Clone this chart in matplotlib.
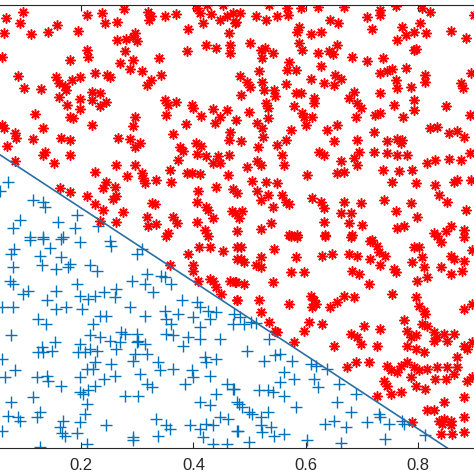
import numpy as np
import matplotlib
matplotlib.use('Agg')
import matplotlib.pyplot as plt

# class 1 samples (red asterisks)
red_pts = np.array([
    (0.067, 0.970), (0.096, 0.985), (0.091, 0.960), (0.063, 0.936), (0.110, 0.934),
    (0.142, 0.938), (0.158, 0.955), (0.194, 0.942), (0.210, 0.977), (0.237, 0.981),
    (0.243, 0.959), (0.264, 0.962), (0.276, 0.991), (0.320, 0.985), (0.325, 0.974),
    (0.321, 0.966), (0.349, 0.975), (0.369, 0.980), (0.406, 0.993), (0.411, 0.981),
    (0.424, 1.000), (0.452, 1.000), (0.417, 0.959), (0.432, 0.980), (0.447, 0.966),
    (0.459, 0.974), (0.471, 0.981), (0.474, 0.959), (0.464, 0.936), (0.390, 0.945),
    (0.059, 0.883), (0.211, 0.899), (0.213, 0.883), (0.180, 0.876), (0.264, 0.920),
    (0.280, 0.923), (0.296, 0.936), (0.293, 0.927), (0.300, 0.919), (0.279, 0.897),
    (0.269, 0.870), (0.292, 0.876), (0.288, 0.855), (0.308, 0.852), (0.339, 0.881),
    (0.388, 0.895), (0.422, 0.910), (0.440, 0.902), (0.465, 0.910), (0.466, 0.891),
    (0.088, 0.840), (0.098, 0.812), (0.128, 0.810), (0.155, 0.837), (0.161, 0.823),
    (0.171, 0.817), (0.174, 0.808), (0.183, 0.831), (0.198, 0.837), (0.225, 0.847),
    (0.247, 0.842), (0.251, 0.838), (0.161, 0.792), (0.175, 0.774), (0.199, 0.788),
    (0.198, 0.765), (0.219, 0.804), (0.219, 0.786), (0.234, 0.801), (0.234, 0.771),
    (0.245, 0.782), (0.317, 0.820), (0.325, 0.831), (0.342, 0.842), (0.349, 0.786),
    (0.355, 0.774), (0.352, 0.752), (0.369, 0.782), (0.398, 0.774), (0.400, 0.767),
    (0.414, 0.750), (0.387, 0.732), (0.364, 0.708), (0.296, 0.748), (0.292, 0.726),
    (0.266, 0.699), (0.287, 0.697), (0.296, 0.680), (0.305, 0.688), (0.181, 0.748),
    (0.185, 0.744), (0.118, 0.753), (0.133, 0.723), (0.059, 0.729), (0.062, 0.722),
    (0.082, 0.710), (0.085, 0.699), (0.115, 0.697), (0.164, 0.699), (0.181, 0.695),
    (0.069, 0.682), (0.082, 0.647), (0.133, 0.662), (0.136, 0.669), (0.151, 0.643),
    (0.181, 0.662), (0.219, 0.729), (0.435, 0.765), (0.459, 0.763), (0.447, 0.748),
    (0.438, 0.733), (0.465, 0.714), (0.464, 0.695), (0.376, 0.680), (0.381, 0.671),
    (0.404, 0.688), (0.414, 0.682), (0.406, 0.664), (0.423, 0.658), (0.435, 0.643),
    (0.447, 0.643), (0.444, 0.658), (0.464, 0.662), (0.373, 0.650), (0.225, 0.624),
    (0.263, 0.639), (0.281, 0.613), (0.296, 0.639), (0.308, 0.620), (0.311, 0.609),
    (0.314, 0.598), (0.334, 0.605), (0.358, 0.628), (0.361, 0.601), (0.388, 0.620),
    (0.397, 0.620), (0.411, 0.619), (0.462, 0.617), (0.245, 0.601), (0.239, 0.586),
    (0.260, 0.590), (0.263, 0.568), (0.257, 0.562), (0.211, 0.569), (0.225, 0.551),
    (0.239, 0.538), (0.275, 0.532), (0.263, 0.509), (0.317, 0.521), (0.326, 0.554),
    (0.331, 0.551), (0.320, 0.501), (0.333, 0.506), (0.355, 0.486), (0.364, 0.522),
    (0.371, 0.507), (0.406, 0.556), (0.409, 0.579), (0.423, 0.545), (0.426, 0.538),
    (0.435, 0.519), (0.406, 0.511), (0.420, 0.492), (0.441, 0.590), (0.471, 0.584),
    (0.468, 0.534), (0.474, 0.530), (0.162, 0.586), (0.180, 0.577), (0.234, 0.512),
    (0.535, 1.000), (0.483, 0.981), (0.475, 0.962), (0.511, 0.975), (0.530, 0.965),
    (0.549, 0.974), (0.567, 0.993), (0.568, 0.977), (0.591, 0.993), (0.621, 0.995),
    (0.668, 0.996), (0.588, 0.951), (0.584, 0.940), (0.609, 0.935), (0.628, 0.940),
    (0.644, 0.966), (0.657, 0.960), (0.709, 0.972), (0.718, 0.945), (0.733, 0.989),
    (0.732, 0.977), (0.761, 0.998), (0.772, 0.951), (0.763, 0.921), (0.778, 0.932),
    (0.793, 0.940), (0.804, 0.959), (0.815, 0.936), (0.807, 0.993), (0.822, 0.985),
    (0.858, 0.942), (0.886, 0.925), (0.899, 0.977), (0.501, 0.915), (0.520, 0.898),
    (0.527, 0.902), (0.523, 0.880), (0.542, 0.892), (0.588, 0.914), (0.594, 0.898),
    (0.621, 0.891), (0.641, 0.895), (0.649, 0.889), (0.655, 0.910), (0.683, 0.883),
    (0.709, 0.874), (0.738, 0.880), (0.793, 0.898), (0.797, 0.900), (0.483, 0.840),
    (0.496, 0.827), (0.501, 0.814), (0.485, 0.797), (0.517, 0.852), (0.523, 0.827),
    (0.526, 0.808), (0.543, 0.808), (0.546, 0.795), (0.570, 0.872), (0.567, 0.853),
    (0.582, 0.853), (0.564, 0.821), (0.582, 0.801), (0.591, 0.802), (0.609, 0.832),
    (0.632, 0.823), (0.628, 0.862), (0.653, 0.842), (0.662, 0.832), (0.650, 0.820),
    (0.733, 0.846), (0.745, 0.852), (0.754, 0.855), (0.760, 0.831), (0.763, 0.812),
    (0.778, 0.857), (0.787, 0.814), (0.813, 0.842), (0.813, 0.827), (0.876, 0.823),
    (0.880, 0.812), (0.894, 0.847), (0.733, 0.801), (0.499, 0.758), (0.529, 0.778),
    (0.532, 0.767), (0.514, 0.733), (0.523, 0.722), (0.532, 0.744), (0.524, 0.703),
    (0.484, 0.692), (0.475, 0.741), (0.579, 0.772), (0.594, 0.756), (0.597, 0.748),
    (0.612, 0.748), (0.600, 0.729), (0.615, 0.789), (0.615, 0.778), (0.677, 0.789),
    (0.686, 0.804), (0.692, 0.778), (0.698, 0.767), (0.689, 0.748), (0.724, 0.752),
    (0.733, 0.756), (0.757, 0.774), (0.774, 0.748), (0.793, 0.786), (0.793, 0.763),
    (0.849, 0.771), (0.893, 0.752), (0.638, 0.718), (0.656, 0.729), (0.650, 0.692),
    (0.624, 0.669), (0.632, 0.662), (0.662, 0.647), (0.656, 0.620), (0.668, 0.624),
    (0.691, 0.695), (0.694, 0.667), (0.692, 0.639), (0.721, 0.714), (0.721, 0.669),
    (0.745, 0.692), (0.763, 0.697), (0.772, 0.695), (0.769, 0.688), (0.763, 0.662),
    (0.781, 0.662), (0.745, 0.665), (0.549, 0.684), (0.564, 0.695), (0.574, 0.718),
    (0.558, 0.662), (0.561, 0.639), (0.515, 0.680), (0.496, 0.635), (0.514, 0.647),
    (0.520, 0.639), (0.602, 0.617), (0.686, 0.654), (0.822, 0.722), (0.834, 0.724),
    (0.855, 0.712), (0.870, 0.716), (0.881, 0.703), (0.816, 0.643), (0.831, 0.650),
    (0.855, 0.652), (0.876, 0.650), (0.893, 0.665), (0.738, 0.628), (0.766, 0.626),
    (0.790, 0.628), (0.796, 0.599), (0.754, 0.601), (0.870, 0.605), (0.864, 0.601),
    (0.894, 0.605), (0.831, 0.594), (0.837, 0.571), (0.852, 0.556), (0.505, 0.603),
    (0.530, 0.601), (0.549, 0.598), (0.514, 0.579), (0.520, 0.560), (0.532, 0.571),
    (0.478, 0.575), (0.558, 0.571), (0.564, 0.556), (0.570, 0.551), (0.541, 0.545),
    (0.612, 0.564), (0.627, 0.556), (0.632, 0.541), (0.668, 0.556), (0.698, 0.553),
    (0.662, 0.530), (0.680, 0.530), (0.677, 0.507), (0.683, 0.481), (0.701, 0.504),
    (0.739, 0.560), (0.760, 0.534), (0.798, 0.522), (0.787, 0.553), (0.763, 0.496),
    (0.775, 0.500), (0.828, 0.485), (0.849, 0.489), (0.858, 0.500), (0.881, 0.492),
    (0.886, 0.538), (0.478, 0.489), (0.487, 0.534), (0.481, 0.519), (0.520, 0.494),
    (0.538, 0.507), (0.570, 0.481), (0.585, 0.481), (0.632, 0.511), (0.635, 0.481),
    (0.718, 0.470),
    (0.352, 0.479), (0.426, 0.479), (0.477, 0.453), (0.391, 0.438), (0.410, 0.453),
    (0.430, 0.454), (0.452, 0.444), (0.478, 0.427), (0.400, 0.412), (0.400, 0.400),
    (0.358, 0.412), (0.409, 0.378), (0.429, 0.382), (0.435, 0.378), (0.440, 0.363),
    (0.450, 0.348), (0.465, 0.378), (0.474, 0.374), (0.478, 0.333),
    (0.484, 0.453), (0.484, 0.427), (0.490, 0.419), (0.511, 0.412), (0.520, 0.430),
    (0.521, 0.408), (0.543, 0.449), (0.573, 0.479), (0.585, 0.476), (0.635, 0.479),
    (0.680, 0.476), (0.582, 0.430), (0.629, 0.434), (0.647, 0.439), (0.677, 0.438),
    (0.692, 0.434), (0.715, 0.468), (0.727, 0.457), (0.730, 0.442), (0.715, 0.427),
    (0.733, 0.412), (0.742, 0.434), (0.757, 0.404), (0.760, 0.397), (0.790, 0.419),
    (0.793, 0.453), (0.801, 0.453), (0.807, 0.430), (0.810, 0.408), (0.834, 0.479),
    (0.840, 0.464), (0.858, 0.434), (0.864, 0.427), (0.881, 0.423), (0.881, 0.476),
    (0.896, 0.446), (0.475, 0.374), (0.490, 0.370), (0.541, 0.374), (0.573, 0.397),
    (0.597, 0.397), (0.683, 0.400), (0.695, 0.393), (0.712, 0.370), (0.798, 0.378),
    (0.816, 0.385), (0.840, 0.408), (0.858, 0.393), (0.878, 0.400), (0.478, 0.333),
    (0.517, 0.333), (0.520, 0.306), (0.570, 0.325), (0.609, 0.344), (0.615, 0.333),
    (0.612, 0.318), (0.618, 0.325), (0.644, 0.318), (0.656, 0.329), (0.668, 0.344),
    (0.686, 0.340), (0.754, 0.348), (0.796, 0.340), (0.801, 0.321), (0.810, 0.310),
    (0.813, 0.303), (0.881, 0.314), (0.896, 0.325), (0.535, 0.284), (0.546, 0.265),
    (0.549, 0.261), (0.579, 0.239), (0.597, 0.265), (0.606, 0.284), (0.629, 0.280),
    (0.680, 0.257), (0.692, 0.250), (0.698, 0.235), (0.704, 0.276), (0.733, 0.269),
    (0.650, 0.231), (0.727, 0.231), (0.775, 0.288), (0.781, 0.265), (0.787, 0.250),
    (0.796, 0.254), (0.807, 0.280), (0.816, 0.276), (0.828, 0.261), (0.834, 0.250),
    (0.846, 0.257), (0.852, 0.242), (0.864, 0.257), (0.828, 0.242), (0.781, 0.231),
    (0.796, 0.224), (0.810, 0.216), (0.881, 0.231), (0.887, 0.224), (0.896, 0.239),
    (0.870, 0.205), (0.674, 0.182), (0.689, 0.194), (0.712, 0.194), (0.745, 0.186),
    (0.751, 0.175), (0.769, 0.186), (0.781, 0.194), (0.793, 0.182), (0.801, 0.175),
    (0.816, 0.179), (0.834, 0.182), (0.852, 0.182), (0.870, 0.182), (0.739, 0.152),
    (0.745, 0.141), (0.751, 0.122), (0.769, 0.126), (0.787, 0.160), (0.796, 0.141),
    (0.813, 0.133), (0.831, 0.156), (0.849, 0.156), (0.864, 0.167), (0.887, 0.152),
    (0.896, 0.160), (0.727, 0.118), (0.763, 0.171), (0.881, 0.115), (0.816, 0.085),
    (0.828, 0.085), (0.846, 0.103), (0.837, 0.062), (0.846, 0.066), (0.858, 0.062),
    (0.881, 0.070), (0.843, 0.055), (0.858, 0.051), (0.840, 0.032), (0.861, 0.032),
    (0.881, 0.036), (0.790, 0.058),
])

# class 2 samples (blue plus signs)
blue_pts = np.array([
    (0.070, 0.601), (0.056, 0.579), (0.115, 0.560), (0.133, 0.556), (0.136, 0.545),
    (0.091, 0.515), (0.079, 0.496), (0.159, 0.511), (0.192, 0.526), (0.189, 0.496),
    (0.231, 0.500), (0.109, 0.476), (0.133, 0.476), (0.168, 0.476),
    (0.109, 0.470), (0.133, 0.472), (0.165, 0.472), (0.198, 0.464), (0.251, 0.468),
    (0.254, 0.455), (0.081, 0.449), (0.076, 0.439), (0.145, 0.452), (0.127, 0.434),
    (0.165, 0.430), (0.180, 0.415), (0.130, 0.412), (0.079, 0.409), (0.155, 0.404),
    (0.177, 0.408), (0.216, 0.412), (0.228, 0.400), (0.308, 0.449), (0.299, 0.438),
    (0.073, 0.378), (0.078, 0.370), (0.097, 0.348), (0.106, 0.355), (0.156, 0.355),
    (0.192, 0.370), (0.198, 0.344), (0.213, 0.336), (0.225, 0.344), (0.240, 0.351),
    (0.263, 0.359), (0.260, 0.340), (0.290, 0.378), (0.314, 0.370), (0.317, 0.393),
    (0.328, 0.351), (0.343, 0.389), (0.349, 0.385), (0.361, 0.370), (0.379, 0.333),
    (0.406, 0.329), (0.412, 0.318), (0.426, 0.310), (0.441, 0.306), (0.059, 0.318),
    (0.078, 0.318), (0.139, 0.333), (0.156, 0.314), (0.174, 0.318), (0.201, 0.314),
    (0.234, 0.299), (0.245, 0.299), (0.287, 0.318), (0.314, 0.299), (0.349, 0.310),
    (0.352, 0.291), (0.373, 0.303), (0.361, 0.280), (0.400, 0.295), (0.412, 0.273),
    (0.429, 0.291), (0.471, 0.280), (0.483, 0.295), (0.124, 0.291), (0.138, 0.280),
    (0.222, 0.280), (0.076, 0.254), (0.154, 0.239), (0.130, 0.227), (0.124, 0.216),
    (0.133, 0.216), (0.148, 0.220), (0.198, 0.235), (0.195, 0.216), (0.207, 0.216),
    (0.216, 0.224), (0.228, 0.220), (0.216, 0.254), (0.234, 0.250), (0.251, 0.242),
    (0.272, 0.261), (0.278, 0.257), (0.269, 0.239), (0.263, 0.224), (0.299, 0.257),
    (0.302, 0.242), (0.299, 0.239), (0.314, 0.235), (0.296, 0.212), (0.317, 0.212),
    (0.293, 0.197), (0.352, 0.257), (0.364, 0.254), (0.382, 0.231), (0.391, 0.250),
    (0.412, 0.246), (0.447, 0.246), (0.420, 0.205), (0.441, 0.201), (0.059, 0.201),
    (0.065, 0.160), (0.082, 0.176), (0.121, 0.160), (0.142, 0.152), (0.165, 0.141),
    (0.139, 0.163), (0.198, 0.160), (0.198, 0.126), (0.213, 0.130), (0.210, 0.100),
    (0.204, 0.122), (0.225, 0.194), (0.222, 0.179), (0.210, 0.179), (0.254, 0.190),
    (0.260, 0.163), (0.240, 0.156), (0.225, 0.141), (0.278, 0.118), (0.302, 0.118),
    (0.305, 0.167), (0.317, 0.145), (0.326, 0.137), (0.337, 0.194), (0.340, 0.175),
    (0.364, 0.179), (0.397, 0.175), (0.400, 0.160), (0.385, 0.145), (0.429, 0.163),
    (0.423, 0.194), (0.441, 0.122), (0.459, 0.145), (0.471, 0.133), (0.477, 0.103),
    (0.412, 0.103), (0.429, 0.096), (0.076, 0.103), (0.115, 0.115), (0.127, 0.081),
    (0.121, 0.070), (0.070, 0.073), (0.088, 0.070), (0.091, 0.062), (0.059, 0.039),
    (0.162, 0.047), (0.168, 0.062), (0.171, 0.028), (0.166, 0.033), (0.198, 0.058),
    (0.192, 0.033), (0.207, 0.077), (0.245, 0.051), (0.210, 0.008), (0.127, 0.002),
    (0.293, 0.024), (0.293, 0.017), (0.334, 0.066), (0.337, 0.028), (0.352, 0.051),
    (0.358, 0.043), (0.394, 0.051), (0.412, 0.043), (0.423, 0.055), (0.417, 0.024),
    (0.435, 0.051), (0.435, 0.009), (0.459, 0.009), (0.447, 0.070), (0.462, 0.066),
    (0.480, 0.039),
    (0.472, 0.303), (0.490, 0.280), (0.502, 0.284), (0.511, 0.281), (0.535, 0.246),
    (0.496, 0.220), (0.526, 0.197), (0.546, 0.209), (0.555, 0.212), (0.576, 0.197),
    (0.609, 0.190), (0.618, 0.186), (0.638, 0.179), (0.561, 0.171), (0.579, 0.156),
    (0.555, 0.148), (0.615, 0.156), (0.621, 0.137), (0.659, 0.145), (0.472, 0.133),
    (0.517, 0.130), (0.532, 0.130), (0.541, 0.126), (0.561, 0.118), (0.689, 0.122),
    (0.481, 0.100), (0.487, 0.092), (0.499, 0.081), (0.505, 0.077), (0.520, 0.070),
    (0.532, 0.081), (0.582, 0.092), (0.656, 0.103), (0.680, 0.081), (0.520, 0.051),
    (0.538, 0.047), (0.478, 0.039), (0.523, 0.036), (0.543, 0.028), (0.561, 0.032),
    (0.635, 0.055), (0.650, 0.062), (0.671, 0.047), (0.709, 0.058), (0.730, 0.077),
    (0.733, 0.070), (0.748, 0.055), (0.772, 0.062), (0.775, 0.055), (0.499, 0.013),
    (0.603, 0.017), (0.662, 0.011), (0.742, 0.021), (0.813, 0.030),
])

# decision boundary
line_x = [0.0, 0.852]
line_y = [0.708, 0.0]

xticks = [0.2, 0.4, 0.6, 0.8]

red = '#ff0000'
blue = '#0072bd'

fig = plt.figure(figsize=(4.74, 4.74), dpi=100)
# the picture is a crop: the axes box runs past the left and right edges
ax = fig.add_axes([-0.066, 0.0549, 1.185, 0.9346])

ax.plot(blue_pts[:, 0], blue_pts[:, 1], '+', color=blue, ms=8, mew=1.0)
ax.plot(red_pts[:, 0], red_pts[:, 1], linestyle='none', marker=(8, 2, 0),
        color=red, ms=7.2, mew=1.1)
ax.plot(line_x, line_y, color='#2a6fa3', lw=1.2)

ax.set_xlim(0, 1)
ax.set_ylim(0, 1)
ax.set_xticks(xticks)
ax.set_xticklabels(['0.2', '0.4', '0.6', '0.8'])
ax.set_yticks([])
ax.tick_params(axis='x', direction='in', top=True, length=4, width=0.8,
               color='#262626', labelsize=12, pad=7.5, labelcolor='#262626')
for s in ax.spines.values():
    s.set_color('#262626')
    s.set_linewidth(0.8)
for lab in ax.get_xticklabels():
    lab.set_family(['Liberation Sans', 'DejaVu Sans'])

fig.savefig('out.png', dpi=100)
